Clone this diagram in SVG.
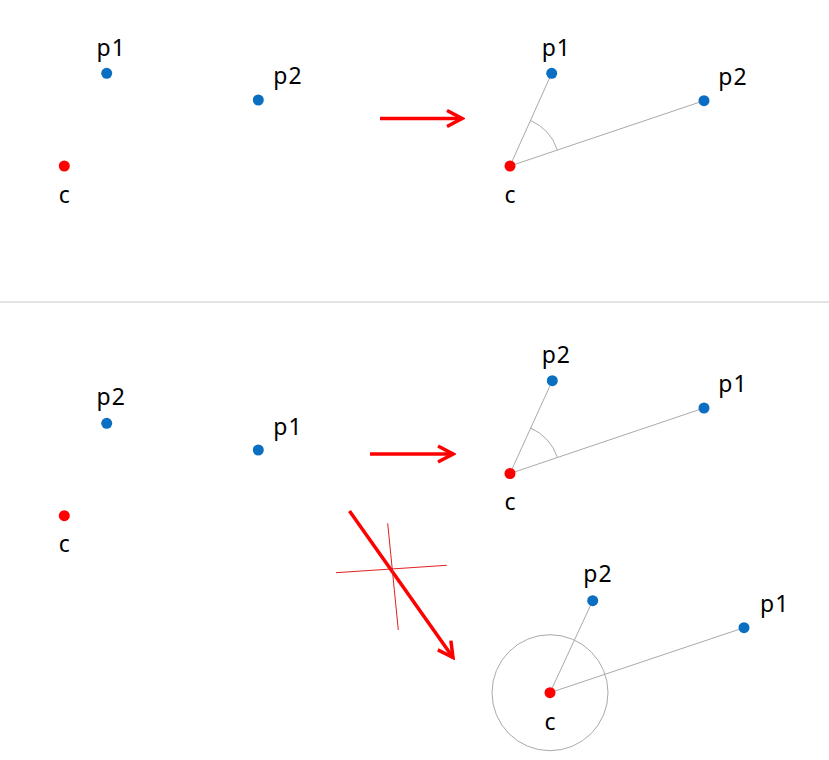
<svg xmlns="http://www.w3.org/2000/svg" width="829" height="760" viewBox="0 0 829 760">
<style>
.lbl{font-family:"Noto Sans","Liberation Sans",sans-serif;font-size:23px;fill:#000}
.sp{letter-spacing:1px}
.pt{fill:#0b6fc1}
.ctr{fill:#f00}
.ray{stroke:#aaa;stroke-width:1;fill:none}
.arr{stroke:#f00;stroke-width:3.5;fill:none;marker-end:url(#head)}
.cross{stroke:#e02020;stroke-width:1;fill:none}
</style>
<defs>
<marker id="head" markerUnits="userSpaceOnUse" viewBox="0 0 20 20" markerWidth="20" markerHeight="20" refX="17" refY="10" orient="auto">
<path d="M2,2 L17,10 L2,18" fill="none" stroke="#f00" stroke-width="3.5"/>
</marker>
</defs>
<rect width="829" height="760" fill="#fff"/>
<line x1="0" y1="302" x2="829" y2="302" stroke="#c8c8c8" stroke-width="1"/>

<g id="connectors">
<line class="arr" x1="380" y1="118.5" x2="462" y2="118.5"/>
<line class="arr" x1="370" y1="454" x2="453" y2="454"/>
<line class="arr" x1="349.5" y1="511" x2="453" y2="657.5"/>
<line class="cross" x1="336" y1="572.7" x2="446.7" y2="565.3"/>
<line class="cross" x1="387.7" y1="523.3" x2="398.3" y2="630"/>
<line class="ray" x1="510" y1="166" x2="551.7" y2="73.3"/>
<line class="ray" x1="510" y1="166" x2="704" y2="100.7"/>
<path class="ray" d="M530.5,120.4 A50,50 0 0 1 557.4,150.05"/>
<line class="ray" x1="510" y1="473.5" x2="552.3" y2="380.7"/>
<line class="ray" x1="510" y1="473.5" x2="704" y2="408"/>
<path class="ray" d="M530.5,427.9 A50,50 0 0 1 557.4,457.55"/>
<line class="ray" x1="550" y1="692.7" x2="592.7" y2="600.7"/>
<line class="ray" x1="550" y1="692.7" x2="744" y2="627.7"/>
<circle class="ray" cx="550" cy="692.7" r="58"/>
</g>

<g id="tl-p1"><circle class="pt" cx="106.7" cy="73.3" r="5.5"/><text class="lbl sp" x="96.5" y="55.5">p1</text></g>
<g id="tl-p2"><circle class="pt" cx="258.3" cy="100" r="5.5"/><text class="lbl sp" x="273.3" y="84">p2</text></g>
<g id="tl-c"><circle class="ctr" cx="64.3" cy="166" r="5.5"/><text class="lbl" x="64.3" y="202.5" text-anchor="middle">c</text></g>

<g id="tr-p1"><circle class="pt" cx="551.7" cy="73.3" r="5.5"/><text class="lbl sp" x="541.7" y="55.5">p1</text></g>
<g id="tr-p2"><circle class="pt" cx="704" cy="100.7" r="5.5"/><text class="lbl sp" x="718.3" y="85">p2</text></g>
<g id="tr-c"><circle class="ctr" cx="510" cy="166" r="5.5"/><text class="lbl" x="510" y="202.5" text-anchor="middle">c</text></g>

<g id="bl-p2"><circle class="pt" cx="106.7" cy="423.3" r="5.5"/><text class="lbl sp" x="96.5" y="405">p2</text></g>
<g id="bl-p1"><circle class="pt" cx="258.3" cy="450" r="5.5"/><text class="lbl sp" x="273.3" y="435">p1</text></g>
<g id="bl-c"><circle class="ctr" cx="64.3" cy="515.7" r="5.5"/><text class="lbl" x="64.3" y="552" text-anchor="middle">c</text></g>

<g id="br1-p2"><circle class="pt" cx="552.3" cy="380.7" r="5.5"/><text class="lbl sp" x="541.7" y="362.5">p2</text></g>
<g id="br1-p1"><circle class="pt" cx="704" cy="408" r="5.5"/><text class="lbl sp" x="718.3" y="392">p1</text></g>
<g id="br1-c"><circle class="ctr" cx="510" cy="473.5" r="5.5"/><text class="lbl" x="510" y="510" text-anchor="middle">c</text></g>

<g id="br2-p2"><circle class="pt" cx="592.7" cy="600.7" r="5.5"/><text class="lbl sp" x="583.3" y="582">p2</text></g>
<g id="br2-p1"><circle class="pt" cx="744" cy="627.7" r="5.5"/><text class="lbl sp" x="760" y="612">p1</text></g>
<g id="br2-c"><circle class="ctr" cx="550" cy="692.7" r="5.5"/><text class="lbl" x="550" y="730" text-anchor="middle">c</text></g>
</svg>
